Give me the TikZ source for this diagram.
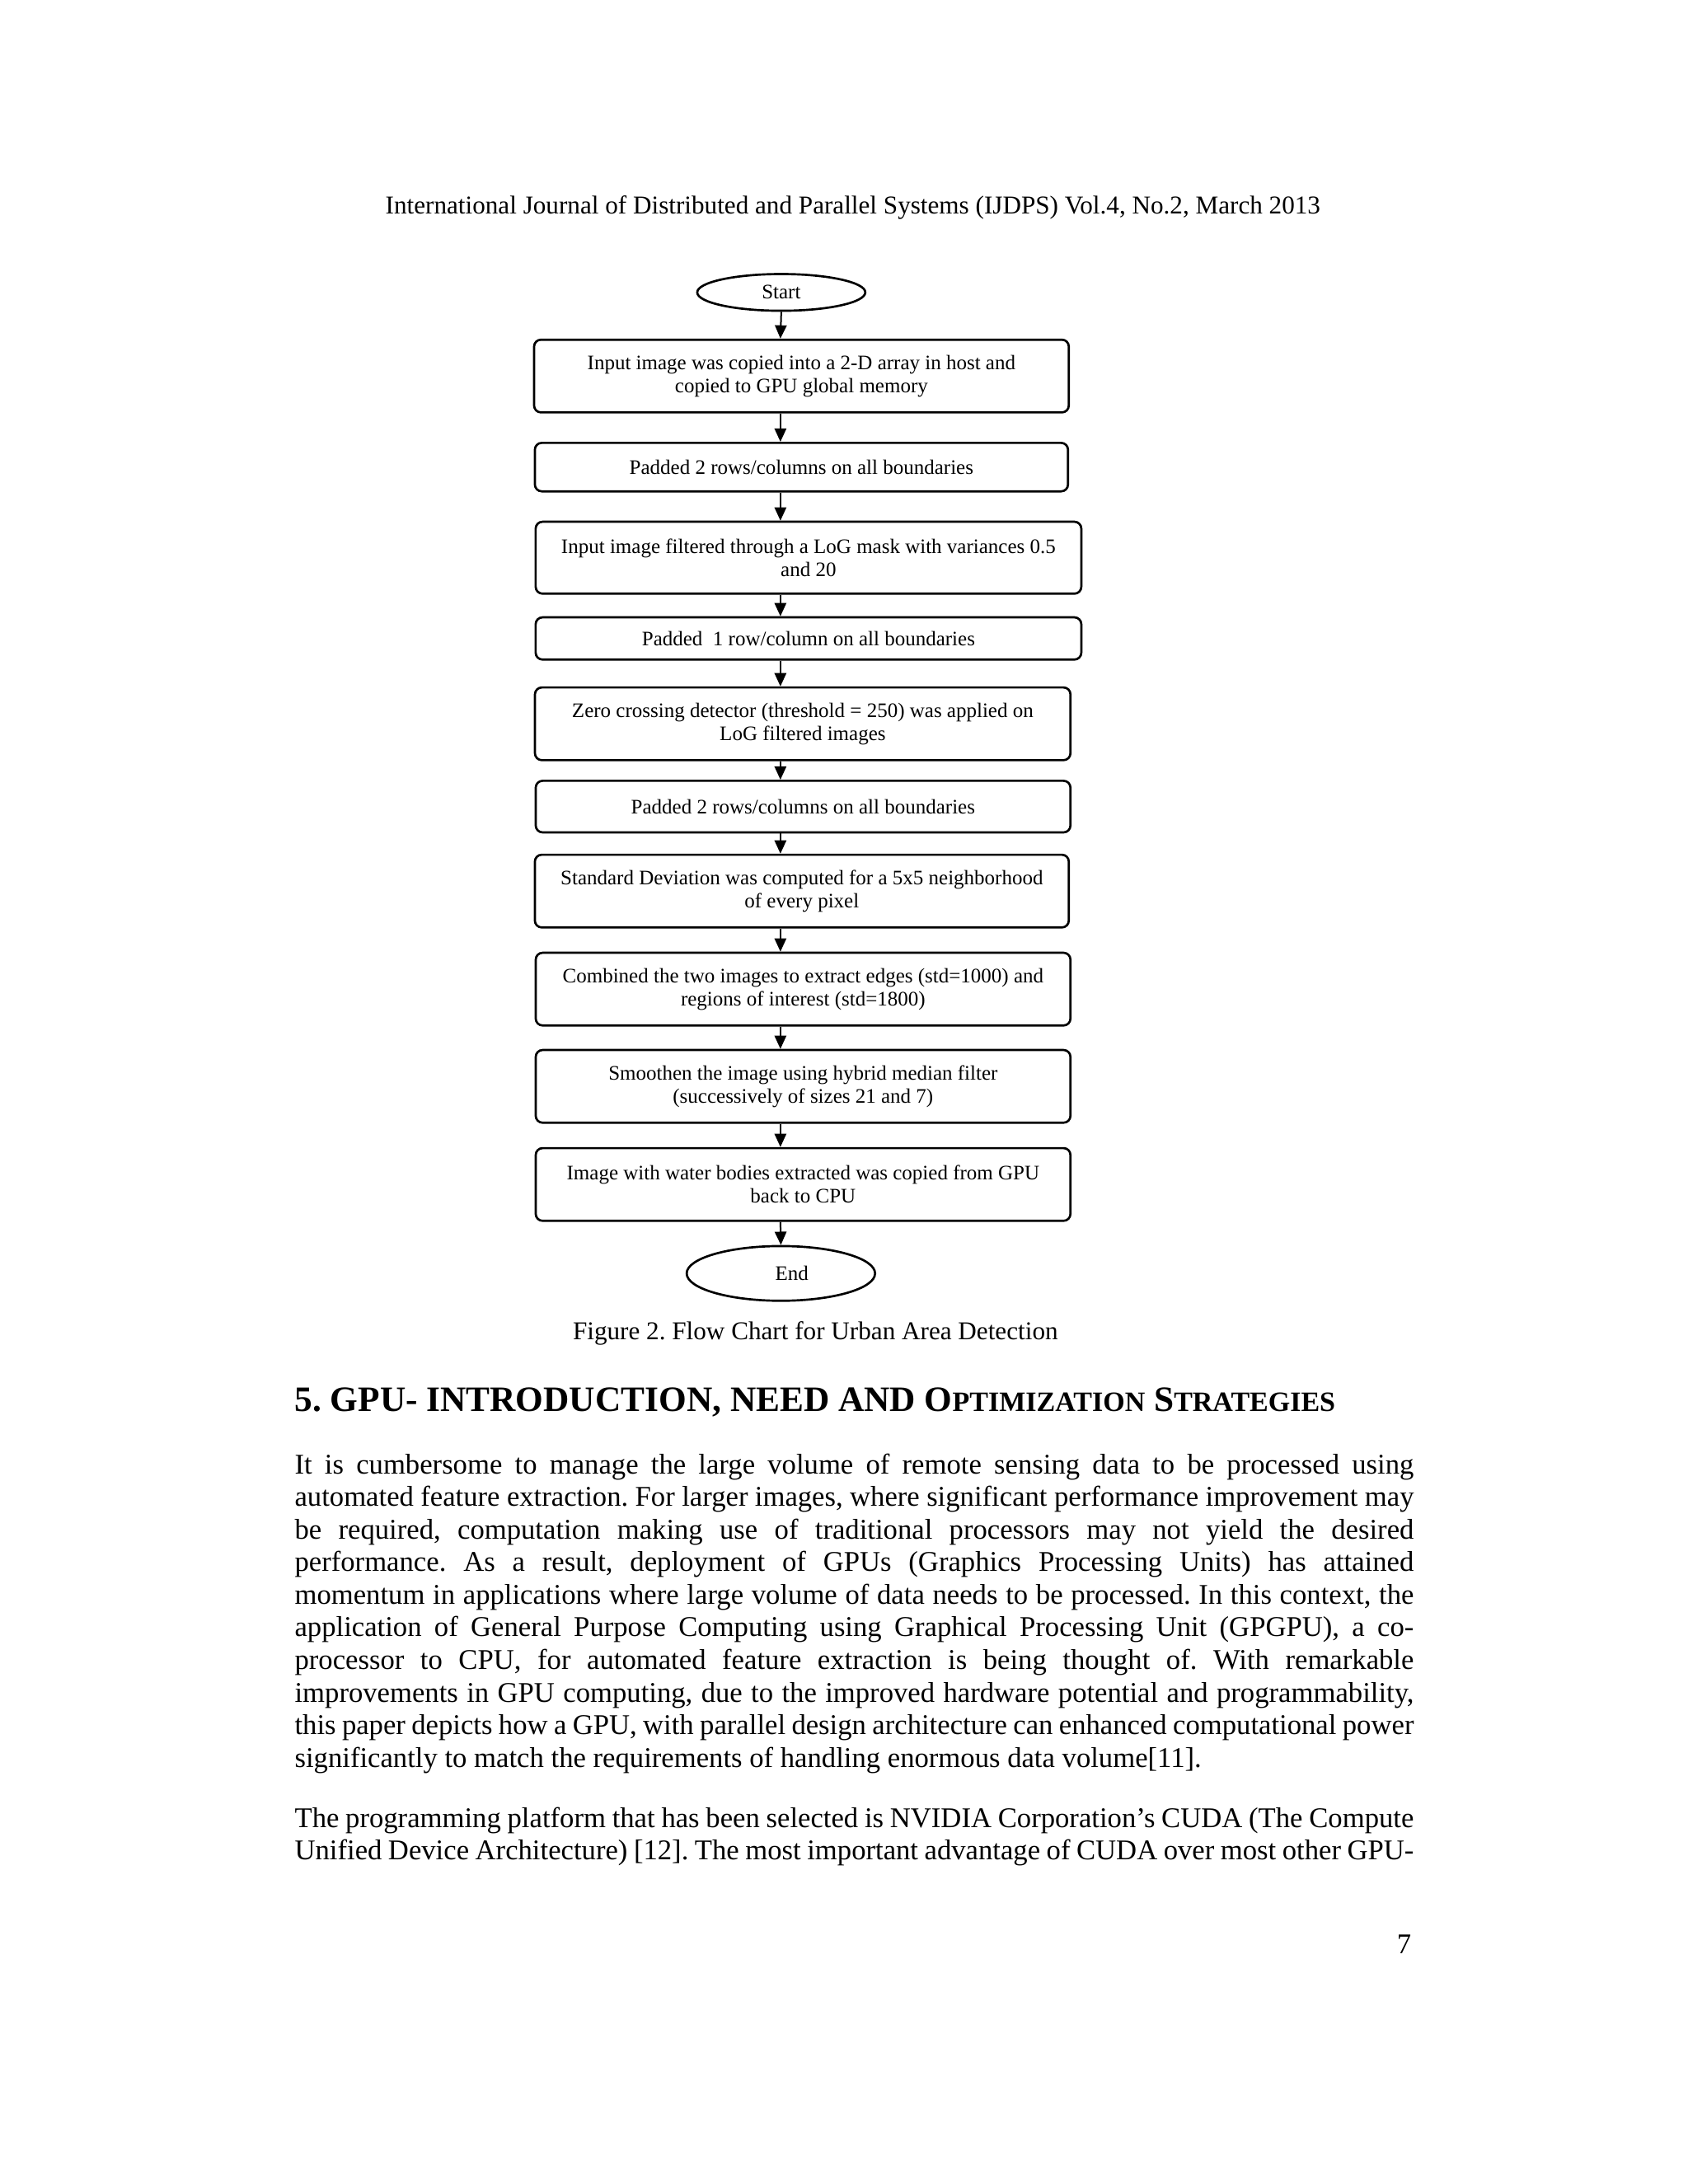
\documentclass[tikz,border=0pt]{standalone}
\usepackage{fontspec}
\setmainfont{Liberation Serif}
\usepackage{tikz}
\usetikzlibrary{arrows.meta, shapes.geometric}

\newcommand{\smcap}[1]{{\fontsize{10.2}{12}\selectfont #1}}
\frenchspacing

\begin{document}
\begin{tikzpicture}[
    >={Triangle[width=1.5mm,length=1.7mm]},
    font=\fontsize{7.5}{8.4}\selectfont,
    stepbox/.style={draw, rounded corners=2.5pt, line width=0.8pt, align=center, inner sep=2pt, minimum width=6.84cm, minimum height=9.3mm},
    term/.style={draw, ellipse, line width=0.8pt, inner sep=1pt},
    flow/.style={->, line width=0.6pt},
    pagetext/.style={font=\fontsize{9.35}{11}\selectfont, inner sep=0pt, anchor=base},
    bodytext/.style={font=\fontsize{10.4}{11.87}\selectfont, inner sep=0pt, text width=14.316cm, align=justify, anchor=base west}
]

\useasboundingbox (0,0) rectangle (21.59,27.94);

% --------------------------------------------------------------------------
% Running head
% --------------------------------------------------------------------------
\node[pagetext] (journal) at (10.911,25.206) {International Journal of Distributed and Parallel Systems (IJDPS) Vol.4, No.2, March 2013};

% --------------------------------------------------------------------------
% Flow chart
% --------------------------------------------------------------------------
\node[term, minimum width=2.15cm, minimum height=4.7mm] (start) at (9.994,24.199) {Start};

\node[stepbox] (copyin) at (10.252,23.129) {Input image was copied into a 2-D array in host and\\copied to GPU global memory};
\node[stepbox, minimum width=6.82cm, minimum height=6.2mm] (padA) at (10.252,21.964) {Padded 2 rows/columns on all boundaries};
\node[stepbox, minimum width=6.98cm, minimum height=9.2mm] (logmask) at (10.342,20.805) {Input image filtered through a LoG mask with variances 0.5\\and 20};
\node[stepbox, minimum width=6.98cm, minimum height=5.4mm] (padB) at (10.342,19.772) {Padded\ \ 1 row/column on all boundaries};
\node[stepbox, minimum width=6.85cm] (zerocross) at (10.268,18.680) {Zero crossing detector (threshold = 250) was applied on\\LoG filtered images};
\node[stepbox, minimum height=6.6mm] (padC) at (10.273,17.621) {Padded 2 rows/columns on all boundaries};
\node[stepbox, minimum width=6.83cm] (stddev) at (10.257,16.540) {Standard Deviation was computed for a 5x5 neighborhood\\of every pixel};
\node[stepbox] (combine) at (10.273,15.286) {Combined the two images to extract edges (std=1000) and\\regions of interest (std=1800)};
\node[stepbox] (smooth) at (10.273,14.042) {Smoothen the image using hybrid median filter\\(successively of sizes 21 and 7)};
\node[stepbox] (copyback) at (10.273,12.787) {Image with water bodies extracted was copied from GPU\\back to CPU};

\node[term, minimum width=2.41cm, minimum height=7mm] (finish) at (9.989,11.649) {\hspace*{2.8mm}End};

% arrows all run down one vertical line
\coordinate (spine) at (9.983,0);
\draw[flow] (start.south) -- (spine |- copyin.north);
\foreach \a/\b in {copyin/padA, padA/logmask, logmask/padB, padB/zerocross, zerocross/padC, padC/stddev, stddev/combine, combine/smooth, smooth/copyback}
    \draw[flow] (spine |- \a.south) -- (spine |- \b.north);
\draw[flow] (spine |- copyback.south) -- (finish.north);

\node[pagetext] (caption) at (10.431,10.806) {Figure 2. Flow Chart for Urban Area Detection};

% --------------------------------------------------------------------------
% Section text
% --------------------------------------------------------------------------
\node[anchor=base west, inner sep=0pt, font=\fontsize{13}{15}\selectfont\bfseries] (sechead) at (3.763,9.888) {5. GPU- INTRODUCTION, NEED AND O\smcap{PTIMIZATION} S\smcap{TRATEGIES}};

\node[bodytext] (para1) at (3.763,9.087) {It is cumbersome to manage the large volume of remote sensing data to be processed using\linebreak
automated feature extraction. For larger images, where significant performance improvement may\linebreak
be required, computation making use of traditional processors may not yield the desired\linebreak
performance. As a result, deployment of GPUs (Graphics Processing Units) has attained\linebreak
momentum in applications where large volume of data needs to be processed. In this context, the\linebreak
application of General Purpose Computing using Graphical Processing Unit (GPGPU), a co-\linebreak
processor to CPU, for automated feature extraction is being thought of. With remarkable\linebreak
improvements in GPU computing, due to the improved hardware potential and programmability,\linebreak
this paper depicts how a GPU, with parallel design architecture can enhanced computational power\linebreak
significantly to match the requirements of handling enormous data volume[11].};

\node[bodytext] (para2) at (3.763,4.565) {\parfillskip=0pt The programming platform that has been selected is NVIDIA Corporation’s CUDA (The Compute\linebreak
Unified Device Architecture) [12]. The most important advantage of CUDA over most other GPU-};

\node[anchor=base east, inner sep=0pt, font=\fontsize{10.4}{12}\selectfont] (pageno) at (18.058,2.952) {7};

\end{tikzpicture}
\end{document}
